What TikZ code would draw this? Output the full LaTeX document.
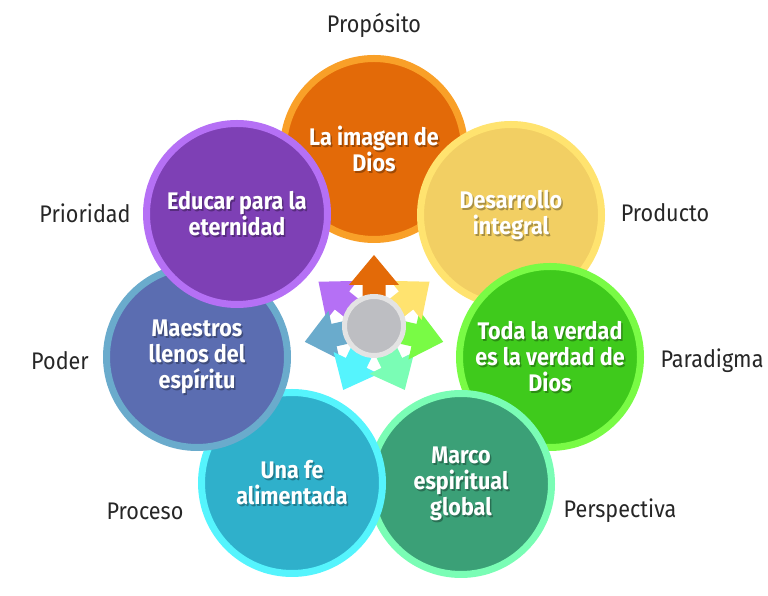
\documentclass[tikz,border=0pt]{standalone}
\usepackage{fontspec}
\setmainfont{Fira Sans}
\newfontfamily\narrowsans[FakeStretch=0.9]{Fira Sans}
\usetikzlibrary{shapes}

\definecolor{orangefill}{HTML}{E36A08}
\definecolor{orangeline}{HTML}{F9A028}
\definecolor{yellowfill}{HTML}{F2CF63}
\definecolor{yellowline}{HTML}{FFE36F}
\definecolor{greenfill}{HTML}{3FCA1C}
\definecolor{greenline}{HTML}{79FB45}
\definecolor{tealfill}{HTML}{3BA077}
\definecolor{tealline}{HTML}{7AFDB5}
\definecolor{cyanfill}{HTML}{2FB0CB}
\definecolor{cyanline}{HTML}{55F4FD}
\definecolor{slatefill}{HTML}{5B6DB1}
\definecolor{slateline}{HTML}{6AABCC}
\definecolor{purplefill}{HTML}{7E40B5}
\definecolor{purpleline}{HTML}{B570F5}
\definecolor{hubfill}{HTML}{BDBEC2}
\definecolor{hubline}{HTML}{E3E3E3}

\begin{document}
\begin{tikzpicture}[x=1pt,y=1pt]
    \useasboundingbox (0,0) rectangle (768,596);
    % big circles, clockwise from the top
    \foreach \n/\x/\y/\fc/\bc/\txt in {
        imagen/374/447/orangefill/orangeline/{La imagen de\\Dios},
        desarrollo/511/381/yellowfill/yellowline/{Desarrollo\\integral},
        verdad/550/239/greenfill/greenline/{Toda la verdad\\es la verdad de\\Dios},
        marco/461/112/tealfill/tealline/{Marco\\espiritual\\global},
        fe/292/113/cyanfill/cyanline/{Una fe\\alimentada},
        maestros/197/239/slatefill/slateline/{Maestros\\llenos del\\espíritu},
        educar/237/382/purplefill/purpleline/{Educar para la\\eternidad}}
        \node[circle,draw=\bc,fill=\fc,line width=7pt,minimum size=181pt,inner sep=0pt,
            text=white,align=center,font=\narrowsans\fontsize{24}{26}\selectfont\bfseries,
            path picture={\node[black,opacity=0.3,align=center,font=\narrowsans\fontsize{24}{26}\selectfont\bfseries]
                at ([shift={(1.5,-2)}]path picture bounding box.center) {\txt};}] (\n) at (\x,\y) {\txt};
    % outer labels
    \foreach \n/\x/\y/\txt in {
        proposito/374/571/Propósito, producto/665/383/Producto,
        paradigma/712/235/Paradigma, perspectiva/620/85/Perspectiva,
        proceso/145/85/Proceso, poder/60/235/Poder, prioridad/85/383/Prioridad}
        \node[text=black!85,font=\narrowsans\fontsize{24}{26}\selectfont] (\n) at (\x,\y) {\txt};
    % arrows round the hub
    \coordinate (mid) at (374,270);
    \foreach \k/\c in {6/purpleline,5/slateline,4/cyanline,3/tealline,2/greenline,1/yellowline,0/orangefill}
        \fill[\c,shift={(mid)},rotate={90-\k*360/7}] (0,-11.5) -- (41,-11.5) -- (41,-25) -- (71,0)
            -- (41,25) -- (41,11.5) -- (0,11.5) -- cycle;
    \node[circle,draw=hubline,fill=hubfill,line width=5pt,minimum size=59pt] (hub) at (mid) {};
\end{tikzpicture}
\end{document}
